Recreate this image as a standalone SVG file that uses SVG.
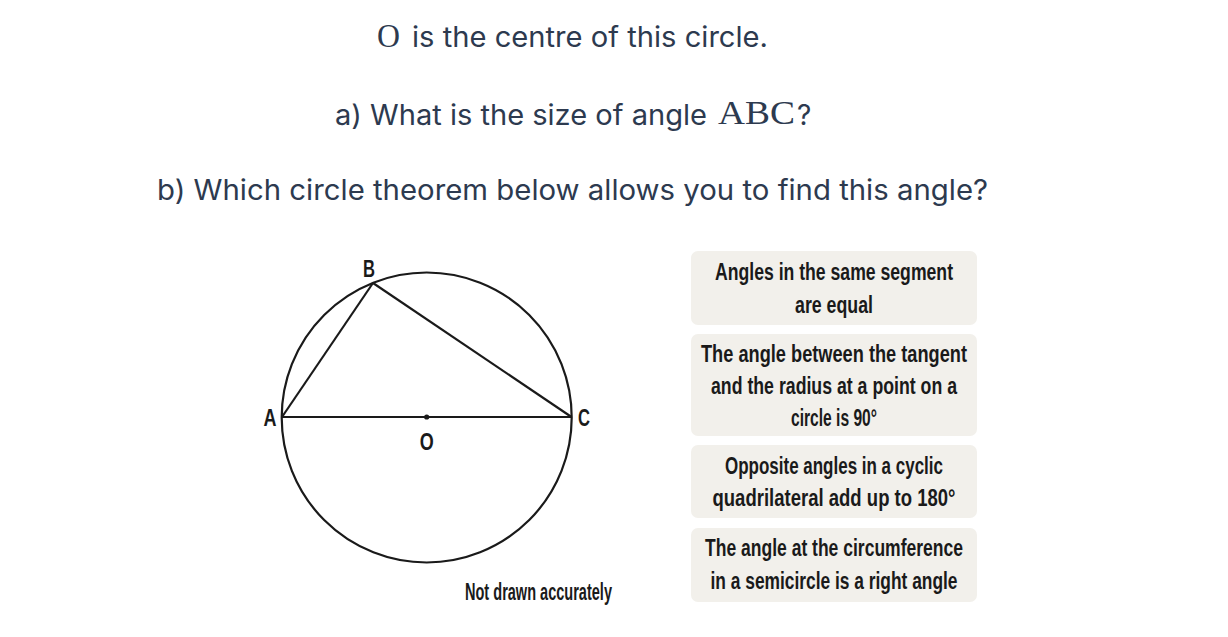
<svg xmlns="http://www.w3.org/2000/svg" width="1228" height="637" viewBox="0 0 1228 637">
<style>
.q{font-family:Inter,"Open Sans","Liberation Sans",sans-serif;font-size:28px;fill:#2d3a4f}
.m{font-family:"Liberation Serif","DejaVu Serif",serif;font-size:34px;fill:#2d3a4f}
.t{font-family:"Liberation Sans",Arial,sans-serif;font-weight:bold;font-size:23px;fill:#1a1a1a;text-anchor:middle}
.box{fill:#f2f0eb}
.ln{stroke:#1a1a1a;stroke-width:2.2;fill:none}
</style>
<rect width="1228" height="637" fill="#ffffff"/>
<g id="title">
<text x="377" y="47" class="m" textLength="23" lengthAdjust="spacingAndGlyphs">O</text>
<text x="412" y="47" class="q" textLength="356" lengthAdjust="spacingAndGlyphs">is the centre of this circle.</text>
<text x="335" y="125" class="q" textLength="372" lengthAdjust="spacingAndGlyphs">a) What is the size of angle</text>
<text x="718" y="124" class="m" textLength="77" lengthAdjust="spacingAndGlyphs">ABC</text>
<text x="797" y="125" class="q">?</text>
<text x="157" y="200" class="q" textLength="831" lengthAdjust="spacingAndGlyphs">b) Which circle theorem below allows you to find this angle?</text>
</g>
<g id="figure">
<circle class="ln" cx="426.7" cy="417.5" r="145"/>
<g id="connectors">
<line class="ln" x1="282" y1="417" x2="571.5" y2="417"/>
<line class="ln" x1="282" y1="417" x2="373" y2="283"/>
<line class="ln" x1="373" y1="283" x2="571.5" y2="417"/>
</g>
<circle cx="426.7" cy="417" r="2.6" fill="#1a1a1a"/>
<text class="t" x="369" y="277" font-size="25" textLength="12" lengthAdjust="spacingAndGlyphs">B</text>
<text class="t" x="270" y="426" font-size="25" textLength="13" lengthAdjust="spacingAndGlyphs">A</text>
<text class="t" x="584" y="426" font-size="25" textLength="12" lengthAdjust="spacingAndGlyphs">C</text>
<text class="t" x="426.7" y="450" font-size="25" textLength="14" lengthAdjust="spacingAndGlyphs">O</text>
<text class="t" x="538.5" y="600" font-size="19" fill="#444" textLength="147" lengthAdjust="spacingAndGlyphs">Not drawn accurately</text>
</g>
<g id="box1">
<rect class="box" x="691" y="251" width="286" height="74" rx="7"/>
<text class="t" x="834" y="280" textLength="238" lengthAdjust="spacingAndGlyphs">Angles in the same segment</text>
<text class="t" x="834" y="313" textLength="78" lengthAdjust="spacingAndGlyphs">are equal</text>
</g>
<g id="box2">
<rect class="box" x="691" y="334" width="286" height="102" rx="7"/>
<text class="t" x="834" y="362" textLength="266" lengthAdjust="spacingAndGlyphs">The angle between the tangent</text>
<text class="t" x="834" y="394" textLength="246" lengthAdjust="spacingAndGlyphs">and the radius at a point on a</text>
<text class="t" x="834" y="426" textLength="86" lengthAdjust="spacingAndGlyphs">circle is 90°</text>
</g>
<g id="box3">
<rect class="box" x="691" y="445" width="286" height="73" rx="7"/>
<text class="t" x="834" y="474" textLength="218" lengthAdjust="spacingAndGlyphs">Opposite angles in a cyclic</text>
<text class="t" x="834" y="506" textLength="243" lengthAdjust="spacingAndGlyphs">quadrilateral add up to 180°</text>
</g>
<g id="box4">
<rect class="box" x="691" y="528" width="286" height="74" rx="7"/>
<text class="t" x="834" y="556" textLength="258" lengthAdjust="spacingAndGlyphs">The angle at the circumference</text>
<text class="t" x="834" y="589" textLength="247" lengthAdjust="spacingAndGlyphs">in a semicircle is a right angle</text>
</g>
</svg>
